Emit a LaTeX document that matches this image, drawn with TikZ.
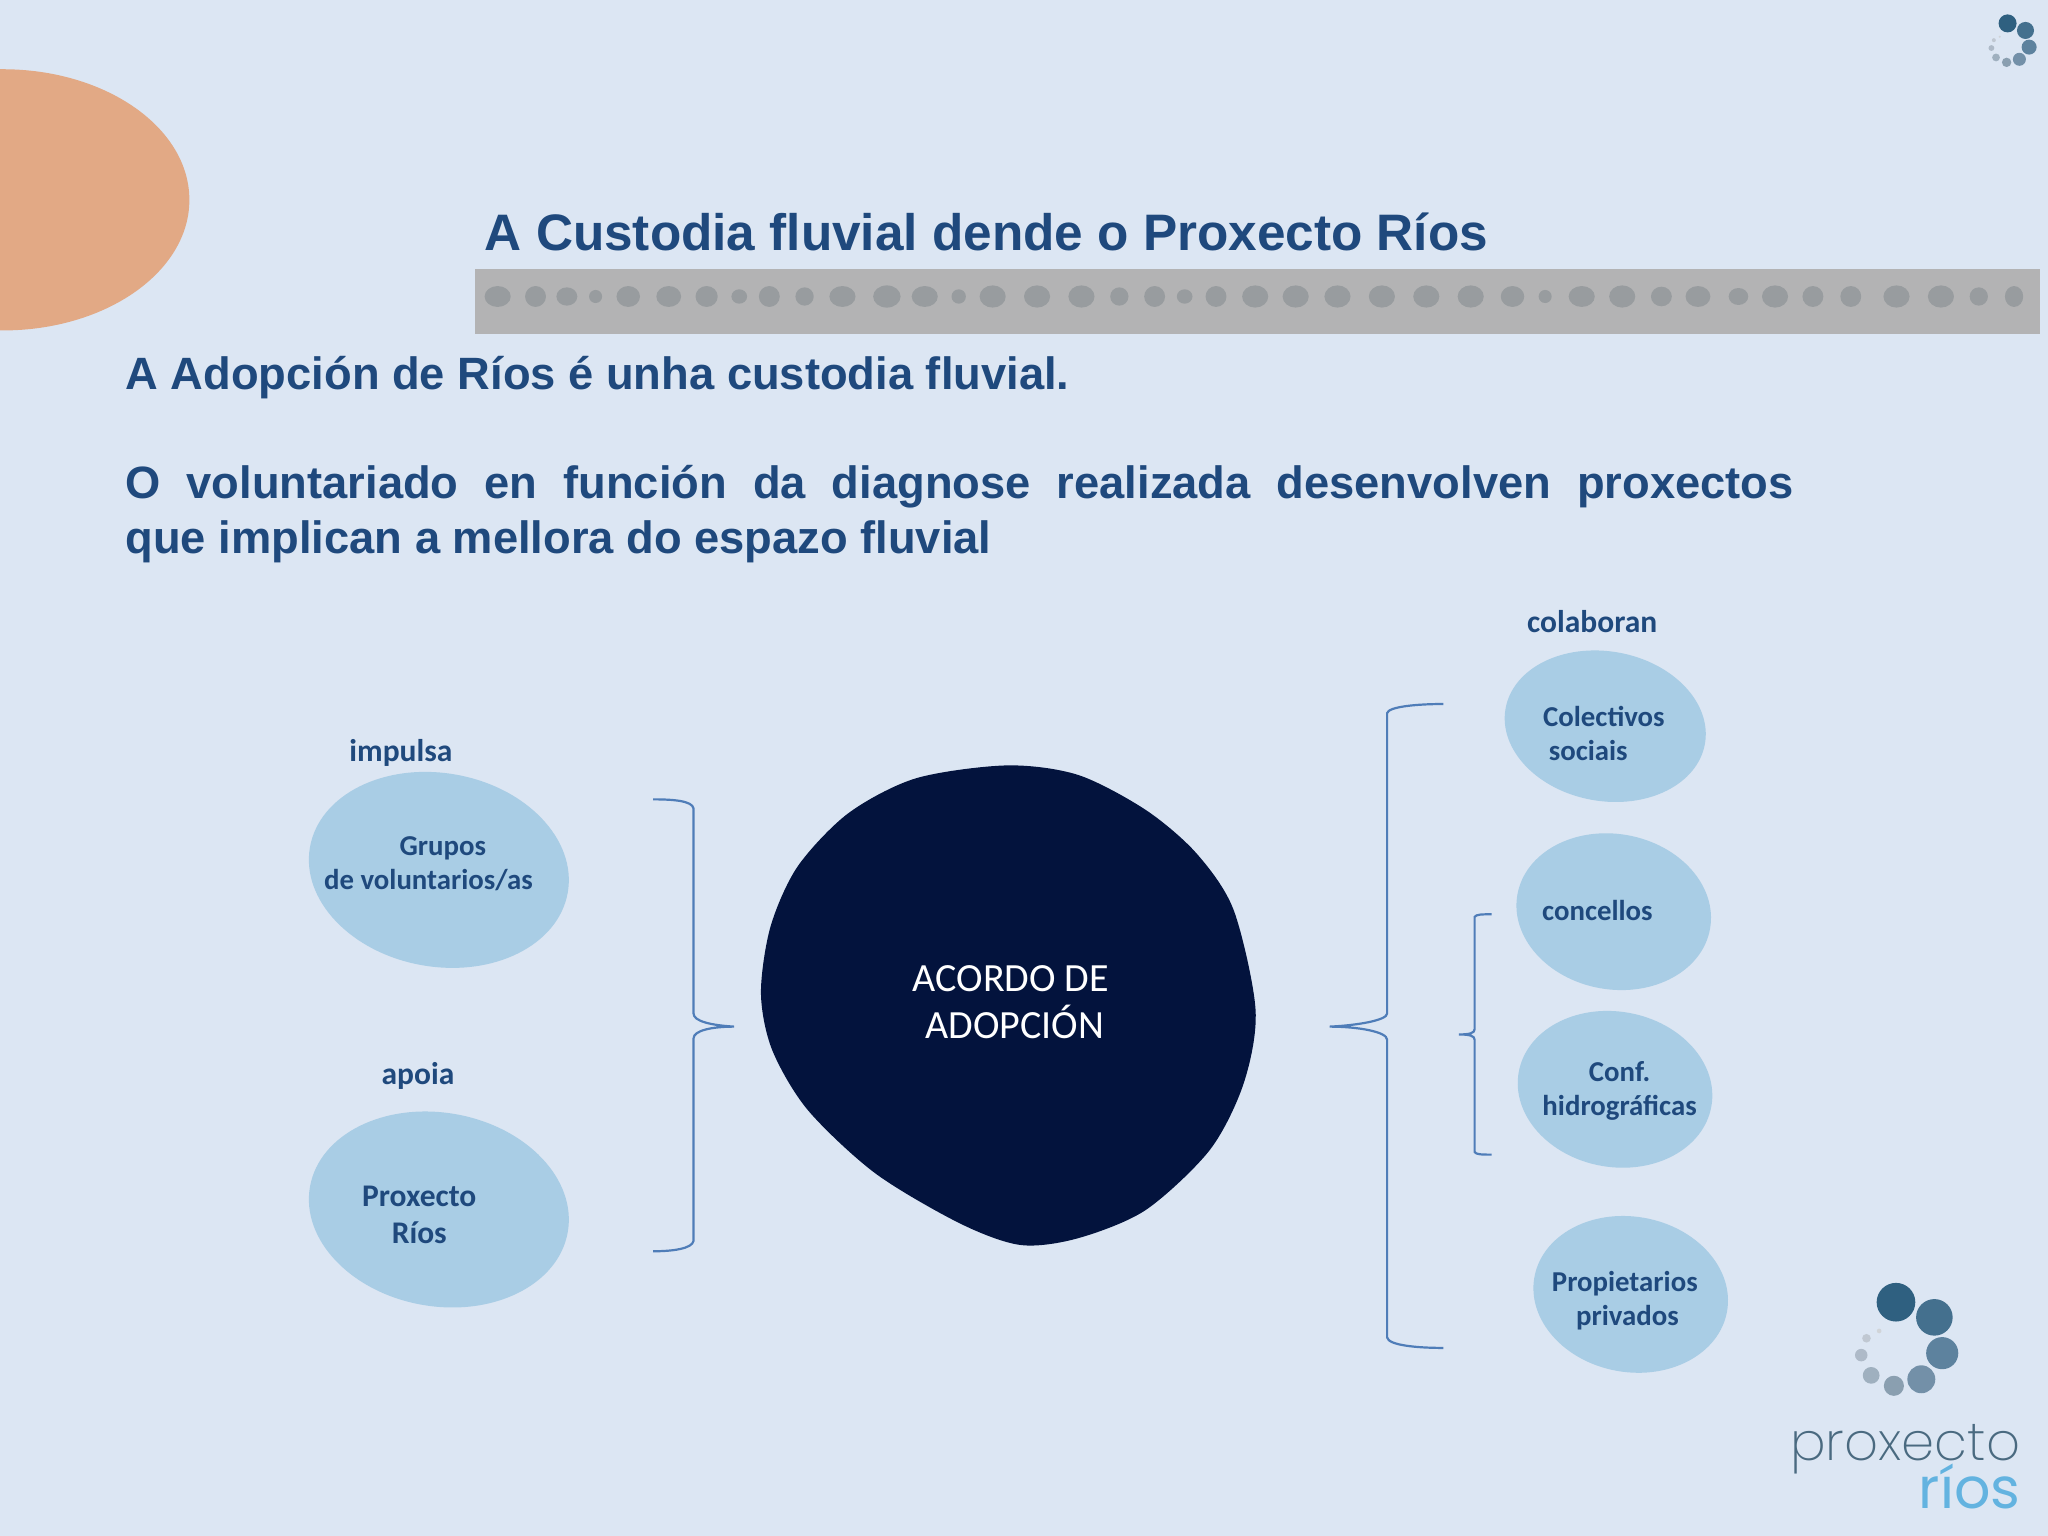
\documentclass[tikz,border=0pt]{standalone}
\usepackage{fontspec}
\setmainfont{Liberation Sans}
\newfontfamily\calibrifont{Carlito}
\newfontfamily\logofont{Poppins ExtraLight}
\newfontfamily\logoheavy{Poppins}
\definecolor{paper}{HTML}{DCE6F3}
\definecolor{ink}{HTML}{1F497D}
\definecolor{petal}{HTML}{A9CDE5}
\definecolor{navy}{HTML}{03133D}
\definecolor{peach}{HTML}{E2A985}
\definecolor{bandgrey}{HTML}{B3B3B4}
\definecolor{bandspot}{HTML}{989C9F}
\definecolor{bracketblue}{HTML}{4F7DB8}
\definecolor{logoslate}{HTML}{4A6A80}
\definecolor{logosky}{HTML}{63B3E0}
\tikzset{
  headline/.style={anchor=base west,inner sep=0pt,text=ink,font=\bfseries\fontsize{51.3}{51.3}\selectfont},
  bodyline/.style={anchor=base west,inner sep=0pt,text=ink,font=\bfseries\fontsize{45.3}{55}\selectfont},
  leaf/.style={anchor=base,inner sep=0pt,text=ink,font=\calibrifont\bfseries\fontsize{28.8}{28.8}\selectfont},
  tag/.style={anchor=base,inner sep=0pt,text=ink,font=\calibrifont\bfseries\fontsize{31.5}{31.5}\selectfont},
  heart/.style={anchor=base,inner sep=0pt,text=white,font=\calibrifont\fontsize{40}{40}\selectfont},
  bracket/.style={draw=bracketblue,line width=2.2pt},
}
% dots of the logo
\newcommand{\logodots}{
  \foreach \px/\py/\pr/\pc in {1451.6/997/14.8/2F6080,1481/1008.6/14/44708E,1487/1036/12.3/5D829E,1471/1056/10.7/7390A8,1450/1061/7.7/8A9FB0,1432.6/1053/6.4/9FB0BF,1425/1037.5/4.8/AEBAC8,1429/1024.6/3.3/C0C8D2,1438.7/1019/1.8/D0D4D8}{
    \definecolor{spot}{HTML}{\pc}
    \fill[spot] (\px,\py) circle (\pr);
  }
}
\begin{document}
\begin{tikzpicture}[x=1.30612pt,y=-1.30612pt]
  \useasboundingbox (0,0) rectangle (1568,1176);
  \fill[paper] (0,0) rectangle (1568,1176);

  % orange disc, cut by the left edge
  \begin{scope}
    \clip (0,0) rectangle (1568,1176);
    \fill[peach] (2,153) ellipse (143 and 100);
  \end{scope}

  % grey band
  \fill[bandgrey] (364,206) rectangle (1562,256);
  \foreach \bx/\brx/\bry in {381/10/8,410/8/8,434/8/7,456/5/5,481/9/8,512/9.5/8,541/8.5/8,566/6/5.5,589/8/8,616/7/7,645/10/8,679/10.5/8.5,708/10/8,734/5.5/5.5,760/10/8.5,794/10/8.5,828/10/8.5,857/7/7,884/8/8,907/6/5.5,931/8/8,961/10/8.5,992/10/8.5,1024/10/8.5,1058/10/8.5,1092/10/8.5,1126/10/8.5,1158/9/8,1183/5/5,1211/10/8,1242/10/8.5,1272/8/7.5,1300/9.5/8,1331/7.5/6.5,1359/10/8.5,1388/8/8,1417/8/8,1452/10/8.5,1486/10/8.5,1515/7/7,1542/7/8}{
    \fill[bandspot] (\bx,227) ellipse ({\brx} and {\bry});
  }

  % texts on top
  \node[headline] (title) at (371,192) {A Custodia fluvial dende o Proxecto Ríos};
  \node[bodyline] (lead) at (96,298) {A Adopción de Ríos é unha custodia fluvial.};
  \node[bodyline,anchor=north west,text width=1668pt,align=justify] (para) at (96,356)
    {O voluntariado en función da diagnose realizada desenvolven proxectos\linebreak que implican a mellora do espazo fluvial};

  % petals
  \foreach \cx/\cy/\ra/\rb in {336/666/100.2/74.1,336/926/100.2/74.1,1229/556/77.5/57.3,1235.5/698/74.9/59.5,1236.5/834/74.9/59.5,1248.5/991/74.9/59.5}{
    \fill[petal,rotate around={-10:(\cx,\cy)}] (\cx,\cy) ellipse ({\ra} and {\rb});
  }

  % the dark blob
  \fill[navy] plot[smooth cycle] coordinates
    {(771,586) (825.4,593.3) (877.2,620.1) (916,653.3) (944.5,696.7) (961.3,773.3) (952.2,829.4) (926.3,880.4) (877.2,926.4) (825.4,948) (781.4,953.2) (734.8,936.6) (670.1,898.3) (618.4,849.8) (591.2,803.9) (582.6,760.5) (589.9,709.5) (610.6,663.5) (649.4,622.7) (701.2,595.9)};

  % brackets
  \draw[bracket] (500,612) .. controls (515,612) and (530,613) .. (531,619) -- (531,776)
    .. controls (531,782) and (545,785) .. (562,786) .. controls (545,786) and (531,789) .. (531,795)
    -- (531,950) .. controls (530,956) and (515,958) .. (500,958);
  \draw[bracket] (1105,539) .. controls (1085,539) and (1063,541) .. (1062,546) -- (1062,776)
    .. controls (1062,781) and (1040,785) .. (1018,786) .. controls (1040,786) and (1062,790) .. (1062,796)
    -- (1062,1024) .. controls (1063,1030) and (1085,1032) .. (1105,1032);
  \draw[bracket] (1142,700) .. controls (1135,700) and (1130,700) .. (1129,702) -- (1129,788)
    .. controls (1129,791) and (1125,792) .. (1117,792) .. controls (1125,792) and (1129,793) .. (1129,796)
    -- (1129,882) .. controls (1130,884) and (1135,884) .. (1142,884);

  % labels
  \node[tag] (impulsa) at (307,583) {impulsa};
  \node[leaf] (grupos) at (339,655) {Grupos};
  \node[leaf] (voluntarios) at (328,681) {de voluntarios/as};
  \node[tag] (apoia) at (320,830) {apoia};
  \node[tag] (proxecto) at (321,924) {Proxecto};
  \node[tag] (rios) at (321,952) {Ríos};
  \node[tag] (colaboran) at (1219,484) {colaboran};
  \node[leaf] (colectivos) at (1228,556) {Colectivos};
  \node[leaf] (sociais) at (1216,582) {sociais};
  \node[leaf] (concellos) at (1223,705) {concellos};
  \node[leaf] (conf) at (1240,828) {Conf.};
  \node[leaf] (hidro) at (1240,854) {hidrográficas};
  \node[leaf] (propietarios) at (1244,989) {Propietarios};
  \node[leaf] (privados) at (1246,1015) {privados};
  \node[heart] (acordo) at (774,759) {ACORDO DE};
  \node[heart] (adopcion) at (777,795) {ADOPCIÓN};

  % logos
  \logodots
  \begin{scope}[shift={(860.6,-446.7)},scale=.466]
    \logodots
  \end{scope}
  \node[anchor=base east,inner sep=0pt,text=logoslate,font=\logofont\fontsize{53}{53}\selectfont] (logotop) at (1547,1118) {proxecto};
  \node[anchor=base east,inner sep=0pt,text=logosky,font=\logoheavy\fontsize{57}{57}\selectfont] (logobottom) at (1547,1155) {ríos};
\end{tikzpicture}
\end{document}
